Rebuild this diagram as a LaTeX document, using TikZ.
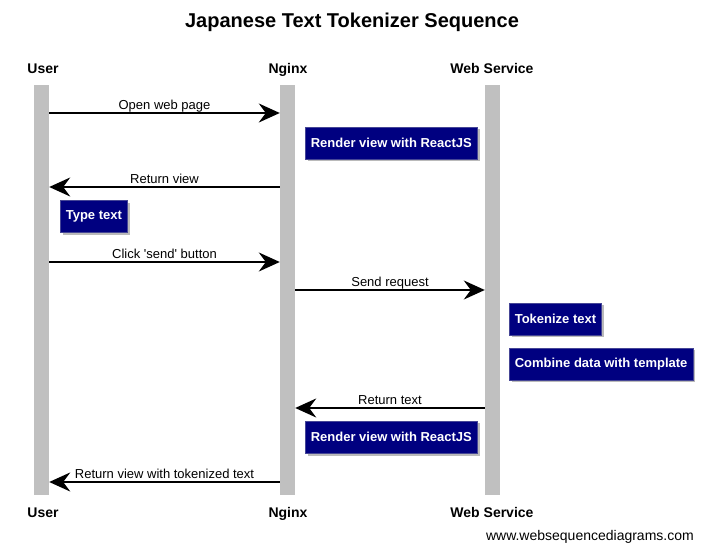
\documentclass[tikz,border=0pt]{standalone}
\usepackage{fontspec}
\setmainfont{Liberation Sans}
\usetikzlibrary{arrows.meta,shadows}
\definecolor{notefill}{RGB}{0,0,128}
\definecolor{noteedge}{RGB}{70,70,150}
\definecolor{lifegray}{RGB}{192,192,192}
\begin{document}
\begin{tikzpicture}[x=1pt,y=-1pt,
  titlestyle/.style={font=\fontsize{20}{24}\selectfont\bfseries,inner sep=0,anchor=base},
  actor/.style={font=\fontsize{14}{16}\selectfont\bfseries,inner sep=0,anchor=base},
  lifeline/.style={fill=lifegray,draw=none,minimum width=15pt,minimum height=410pt,inner sep=0},
  msg/.style={line width=1.6pt,-{Stealth[length=21pt,width=19pt,inset=7pt]}},
  msglabel/.style={font=\fontsize{13}{15}\selectfont,inner sep=0pt,text depth=0pt,above=3pt},
  notebox/.style={fill=notefill,draw=noteedge,line width=0.6pt,text=white,
    font=\fontsize{13}{15}\selectfont\bfseries,inner xsep=5.5pt,minimum height=32pt,
    drop shadow={shadow xshift=2.5pt,shadow yshift=-2.5pt,fill=black!45,opacity=0.6}},
  wm/.style={font=\fontsize{14}{16}\selectfont,inner sep=0}]
\useasboundingbox (0,0) rectangle (702,553);
% title
\node[titlestyle] (title) at (352,28) {Japanese Text Tokenizer Sequence};
% lifelines
\node[lifeline] (U) at (41.5,290) {};
\node[lifeline] (N) at (287.5,290) {};
\node[lifeline] (W) at (492.5,290) {};
% actor labels
\node[actor] (Ut) at (43,74) {User};
\node[actor] (Nt) at (288,74) {Nginx};
\node[actor] (Wt) at (492,74) {Web Service};
\node[actor] (Ub) at (43,517) {User};
\node[actor] (Nb) at (288,517) {Nginx};
\node[actor] (Wb) at (492,517) {Web Service};
% messages
\draw[msg] (U.east |- 0,113) -- node[msglabel] (m1) {Open web page} (N.west |- 0,113);
\node[notebox,anchor=west] (n1) at (305,143) {Render view with ReactJS};
\draw[msg] (N.west |- 0,187) -- node[msglabel] (m2) {Return view} (U.east |- 0,187);
\node[notebox,anchor=west] (n2) at (60,216.5) {Type text};
\draw[msg] (U.east |- 0,262) -- node[msglabel] (m3) {Click \textquotesingle send\textquotesingle{} button} (N.west |- 0,262);
\draw[msg] (N.east |- 0,290) -- node[msglabel] (m4) {Send request} (W.west |- 0,290);
\node[notebox,anchor=west] (n3) at (509,319) {Tokenize text};
\node[notebox,anchor=west] (n4) at (509,364) {Combine data with template};
\draw[msg] (W.west |- 0,408) -- node[msglabel] (m5) {Return text} (N.east |- 0,408);
\node[notebox,anchor=west] (n5) at (305,437) {Render view with ReactJS};
\draw[msg] (N.west |- 0,482) -- node[msglabel] (m6) {Return view with tokenized text} (U.east |- 0,482);
% watermark
\node[wm,anchor=east] (wmark) at (694,537) {www.websequencediagrams.com};
\end{tikzpicture}
\end{document}
